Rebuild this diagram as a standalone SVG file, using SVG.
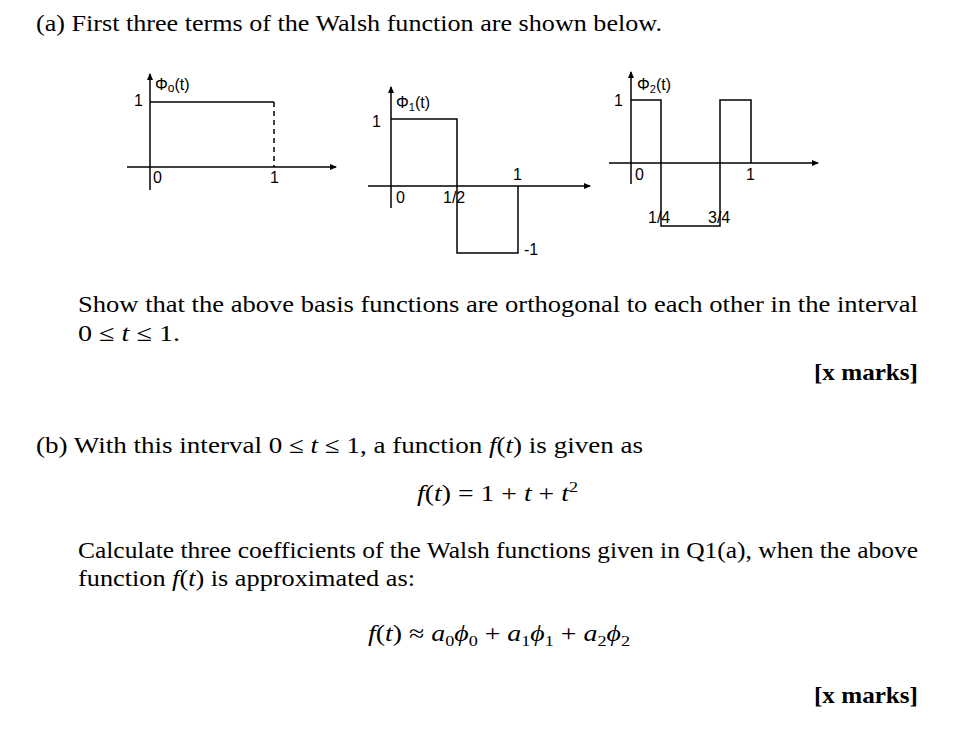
<svg xmlns="http://www.w3.org/2000/svg" width="955" height="730" viewBox="0 0 955 730">
<style>
.t{font-family:"Liberation Serif","DejaVu Serif",serif;font-size:23px;fill:#000}
.i{font-style:italic}
.b{font-weight:bold}
.s{font-family:"Liberation Sans",Arial,sans-serif;font-size:16px;fill:#000}
.ax{stroke:#000;stroke-width:1.5;fill:none}
.ln{stroke:#000;stroke-width:1.5;fill:none}
</style>
<defs><marker id="ar" markerWidth="8" markerHeight="8" refX="6" refY="3" orient="auto" markerUnits="userSpaceOnUse"><path d="M0,0 L7,3 L0,6 Z" fill="#000"/></marker></defs>
<rect width="955" height="730" fill="#fff"/>
<text class="t" x="36" y="31" textLength="626" lengthAdjust="spacingAndGlyphs">(a) First three terms of the Walsh function are shown below.</text>
<g id="phi0">
<line class="ax" x1="150" y1="190" x2="150" y2="74" marker-end="url(#ar)"/>
<line class="ax" x1="127" y1="167" x2="336" y2="167" marker-end="url(#ar)"/>
<polyline class="ln" points="150,102 274,102"/>
<line class="ln" x1="274" y1="102" x2="274" y2="167" stroke-dasharray="5,4"/>
<text class="s" x="155" y="90">Φ<tspan font-size="12" dy="2">o</tspan><tspan dy="-2">(t)</tspan></text>
<text class="s" x="134" y="106">1</text>
<text class="s" x="153" y="183">0</text>
<text class="s" x="270" y="183">1</text>
</g>
<g id="phi1">
<line class="ax" x1="391" y1="208" x2="391" y2="87" marker-end="url(#ar)"/>
<line class="ax" x1="368" y1="186" x2="590" y2="186" marker-end="url(#ar)"/>
<polyline class="ln" points="391,119 457,119 457,253 518,253 518,186"/>
<text class="s" x="396" y="108">Φ<tspan font-size="11" dy="3">1</tspan><tspan dy="-3">(t)</tspan></text>
<text class="s" x="372" y="127">1</text>
<text class="s" x="513" y="180">1</text>
<text class="s" x="396" y="203">0</text>
<text class="s" x="443" y="203">1/2</text>
<text class="s" x="524" y="255">-1</text>
</g>
<g id="phi2">
<line class="ax" x1="631" y1="184" x2="631" y2="72" marker-end="url(#ar)"/>
<line class="ax" x1="609" y1="163" x2="818" y2="163" marker-end="url(#ar)"/>
<polyline class="ln" points="631,100 661,100 661,226 720,226 720,100 751,100 751,163"/>
<text class="s" x="637" y="90">Φ<tspan font-size="11" dy="3">2</tspan><tspan dy="-3">(t)</tspan></text>
<text class="s" x="614" y="106">1</text>
<text class="s" x="635" y="180">0</text>
<text class="s" x="746" y="180">1</text>
<text class="s" x="648" y="223">1/4</text>
<text class="s" x="708" y="223">3/4</text>
</g>
<text class="t" x="78" y="312" textLength="840" lengthAdjust="spacingAndGlyphs">Show that the above basis functions are orthogonal to each other in the interval</text>
<text class="t" x="78" y="341" textLength="102" lengthAdjust="spacingAndGlyphs">0 ≤ <tspan class="i">t</tspan> ≤ 1.</text>
<text class="t b" x="814" y="380" textLength="104" lengthAdjust="spacingAndGlyphs">[x marks]</text>
<text class="t" x="36" y="453" textLength="607" lengthAdjust="spacingAndGlyphs">(b) With this interval 0 ≤ <tspan class="i">t</tspan> ≤ 1, a function <tspan class="i">f</tspan>(<tspan class="i">t</tspan>) is given as</text>
<text class="t" x="417" y="501" textLength="161" lengthAdjust="spacingAndGlyphs"><tspan class="i">f</tspan>(<tspan class="i">t</tspan>) = 1 + <tspan class="i">t</tspan> + <tspan class="i">t</tspan><tspan font-size="15" dy="-9">2</tspan></text>
<text class="t" x="78" y="558" textLength="840" lengthAdjust="spacingAndGlyphs">Calculate three coefficients of the Walsh functions given in Q1(a), when the above</text>
<text class="t" x="78" y="586" textLength="337" lengthAdjust="spacingAndGlyphs">function <tspan class="i">f</tspan>(<tspan class="i">t</tspan>) is approximated as:</text>
<text class="t" x="368" y="641" textLength="262" lengthAdjust="spacingAndGlyphs"><tspan class="i">f</tspan>(<tspan class="i">t</tspan>) ≈ <tspan class="i">a</tspan><tspan font-size="15" dy="5">0</tspan><tspan class="i" dy="-5">ϕ</tspan><tspan font-size="15" dy="5">0</tspan><tspan dy="-5"> + </tspan><tspan class="i">a</tspan><tspan font-size="15" dy="5">1</tspan><tspan class="i" dy="-5">ϕ</tspan><tspan font-size="15" dy="5">1</tspan><tspan dy="-5"> + </tspan><tspan class="i">a</tspan><tspan font-size="15" dy="5">2</tspan><tspan class="i" dy="-5">ϕ</tspan><tspan font-size="15" dy="5">2</tspan></text>
<text class="t b" x="814" y="703" textLength="104" lengthAdjust="spacingAndGlyphs">[x marks]</text>
</svg>
